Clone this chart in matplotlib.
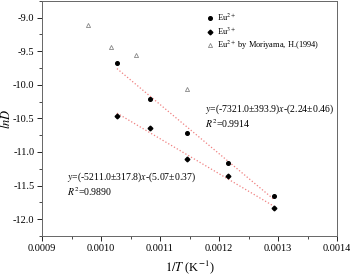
import numpy as np
import matplotlib.pyplot as plt
from matplotlib.ticker import MultipleLocator, FormatStrFormatter

plt.rcParams['font.family'] = ['Liberation Serif', 'DejaVu Serif']
plt.rcParams['mathtext.fontset'] = 'stix'

# 1/T (K^-1) and lnD
x_eu2 = [0.001027, 0.001083, 0.001145, 0.001215, 0.001293]
y_eu2 = [-9.68, -10.21, -10.72, -11.16, -11.66]

x_eu3 = [0.001027, 0.001083, 0.001145, 0.001215, 0.001293]
y_eu3 = [-10.47, -10.64, -11.10, -11.36, -11.83]

x_mori = [0.000978, 0.001017, 0.001060, 0.001145]
y_mori = [-9.11, -9.43, -9.56, -10.06]

# fit coefficients (slope, intercept)
fit_eu2 = (-7321.0, -2.24)
fit_eu3 = (-5211.0, -5.07)

fig = plt.figure(figsize=(3.5, 2.75), dpi=100)
ax = fig.add_axes([0.12, 0.142, 0.843, 0.855])

# fit lines
for xs, (k, b) in [(x_eu2, fit_eu2), (x_eu3, fit_eu3)]:
    xx = np.array([min(xs), max(xs)])
    ax.plot(xx, k * xx + b, color='#f08080', linestyle=':', linewidth=0.9)

ax.plot(x_eu2, y_eu2, 'o', color='black', markersize=2.6, label='Eu$^{2+}$')
ax.plot(x_eu3, y_eu3, 'D', color='black', markersize=2.4, label='Eu$^{3+}$')
ax.plot(x_mori, y_mori, '^', markerfacecolor='white', markeredgecolor='#888888',
        markeredgewidth=0.6, markersize=3, label='Eu$^{2+}$ by Moriyama, H.(1994)')

ax.text(0.001176, -10.67, '$y$=(-7321.0±393.9)$x$-(2.24±0.46)\n$R^2$=0.9914',
        fontsize=7, va='bottom', ha='left', linespacing=1.1)
ax.text(0.000943, -11.69, '$y$=(-5211.0±317.8)$x$-(5.07±0.37)\n$R^2$=0.9890',
        fontsize=7, va='bottom', ha='left', linespacing=1.1)

ax.set_xlim(0.0009, 0.0014)
ax.set_ylim(-12.25, -8.75)
ax.xaxis.set_major_locator(MultipleLocator(0.0001))
ax.xaxis.set_minor_locator(MultipleLocator(0.00005))
ax.xaxis.set_major_formatter(FormatStrFormatter('%.4f'))
ax.yaxis.set_major_locator(MultipleLocator(0.5))
ax.yaxis.set_minor_locator(MultipleLocator(0.25))
ax.yaxis.set_major_formatter(FormatStrFormatter('%.1f'))
ax.tick_params(which='major', direction='out', length=3.5, width=0.6, labelsize=7.5, pad=2)
ax.tick_params(which='minor', direction='out', length=2, width=0.5)
for s in ax.spines.values():
    s.set_color('#666666')
    s.set_linewidth(0.7)

ax.set_xlabel('$1/T$ (K$^{-1}$)', fontsize=9, labelpad=4)
ax.set_ylabel('$lnD$', fontsize=9, labelpad=0)

ax.legend(loc='upper left', bbox_to_anchor=(0.53, 0.985), fontsize=6, frameon=False,
          handletextpad=0.3, handlelength=1.0, labelspacing=0.25)

plt.savefig('out.png', dpi=100)
